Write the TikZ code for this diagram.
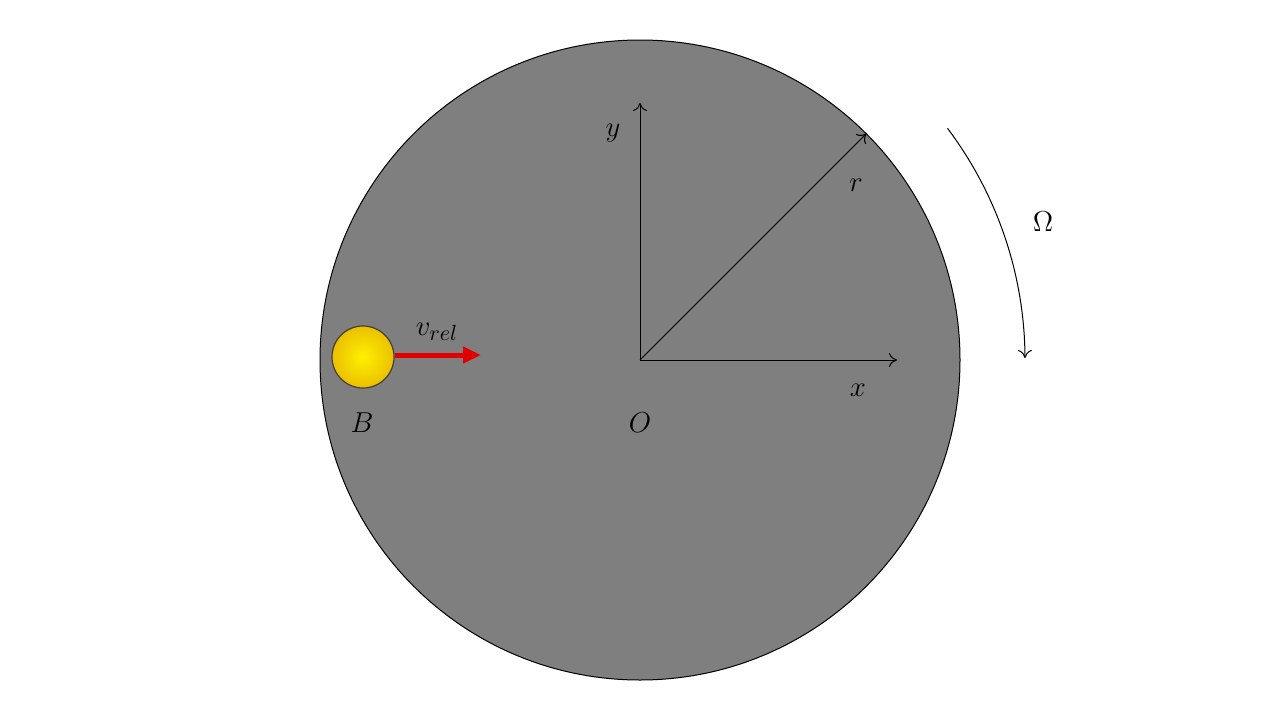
\documentclass[tikz,border=0pt]{standalone}
\usetikzlibrary{arrows.meta,calc}
\definecolor{diskgray}{HTML}{7F7F7F}
\definecolor{ballrim}{HTML}{EBC000}
\definecolor{ballcore}{HTML}{FFF000}
\definecolor{arrowred}{HTML}{E00000}
\tikzset{
  lbl/.style={font=\fontsize{15}{18}\selectfont, inner sep=0pt},
  axis/.style={line width=0.5pt, -{To[length=4pt,width=7pt]}},
}
\begin{document}
\begin{tikzpicture}[x=0.5pt,y=0.5pt]
\useasboundingbox (0,0) rectangle (1280,720);
\fill[white] (0,0) rectangle (1280,720);
\coordinate (O) at (640,360);
% disk
\draw[fill=diskgray, line width=0.5pt] (O) circle[radius=160pt];
% axes
\coordinate (yend) at (640,617);
\coordinate (xend) at (897,360);
\coordinate (rend) at ($(O)+(45:160pt)$);
\draw[axis] (O) -- (yend);
\draw[axis] (O) -- (xend);
\draw[axis] (O) -- (rend);
% labels
\node[lbl] (ylab) at (613,587) {$y$};
\node[lbl] (rlab) at (856,535) {$r$};
\node[lbl] (xlab) at (858,330) {$x$};
\node[lbl] (Olab) at (640,297) {$O$};
\node[lbl] (Blab) at (362,297) {$B$};
\node[lbl] (Wlab) at (1043,498) {$\Omega$};
\node[lbl] (vlab) at (437,388) {$v_{rel}$};
% ball
\node[circle, minimum size=31pt, inner sep=0pt, draw=black!85!yellow, line width=0.6pt,
      inner color=ballcore, outer color=ballrim] (ball) at (363,363) {};
% velocity arrow
\coordinate (vend) at (481,365);
\draw[arrowred, line width=2.5pt, -{Triangle[length=9pt,width=8pt]}] (ball.east |- vend) -- (vend);
% rotation arc
\draw[line width=0.5pt, -{To[length=4pt,width=7pt]}] (O) ++(37:192.5pt) arc[start angle=37, end angle=0.3, radius=192.5pt];
\end{tikzpicture}
\end{document}
